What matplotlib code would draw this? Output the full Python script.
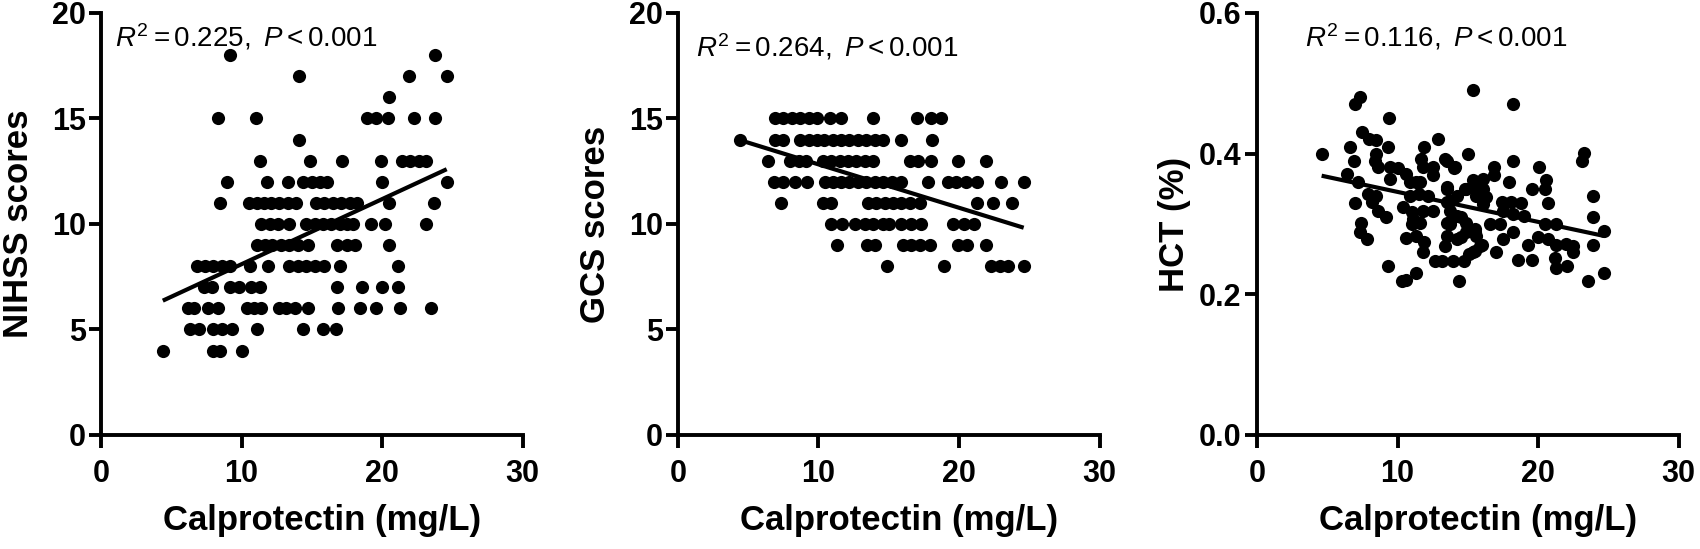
import numpy as np
import matplotlib
matplotlib.use("Agg")
import matplotlib.pyplot as plt

plt.rcParams['font.family'] = ['Liberation Sans', 'DejaVu Sans']
plt.rcParams['mathtext.fontset'] = 'custom'
plt.rcParams['mathtext.rm'] = 'Liberation Sans'
plt.rcParams['mathtext.it'] = 'Liberation Sans:italic'
plt.rcParams['mathtext.bf'] = 'Liberation Sans:bold'

# ---- panel A: NIHSS scores vs calprotectin (one line per score level)
nihss_x = [9.2, 23.8,
           14.1, 21.9, 24.6,
           20.5,
           8.3, 11.0, 18.9, 19.6, 20.4, 22.3, 23.8,
           14.1,
           11.3, 14.85, 17.15, 19.9, 21.4, 22.0, 22.6, 23.1,
           9.0, 11.8, 13.3, 14.4, 15.0, 15.6, 16.1, 20.0, 24.6,
           8.5, 10.5, 11.1, 11.6, 12.1, 12.7, 13.3, 13.9, 15.3, 15.9, 16.5, 17.1, 17.7, 18.2, 20.5, 23.7,
           11.4, 12.0, 12.6, 13.4, 14.6, 15.2, 15.8, 16.4, 17.0, 17.5, 17.9, 19.2, 20.2, 23.1,
           11.1, 11.7, 12.2, 12.8, 13.4, 14.0, 14.7, 16.8, 17.5, 18.05, 20.5,
           6.8, 7.4, 8.0, 8.6, 9.2, 10.6, 11.9, 13.4, 14.0, 14.6, 15.2, 15.9, 17.0, 21.1,
           7.3, 7.9, 9.2, 9.8, 10.7, 11.3, 16.8, 18.6, 20.0, 21.1,
           6.2, 6.6, 7.6, 8.3, 10.4, 10.9, 11.4, 12.7, 13.2, 13.8, 14.7, 16.9, 18.4, 19.6, 21.25, 23.5,
           6.3, 7.0, 8.0, 8.6, 9.3, 11.1, 14.4, 15.8, 16.75,
           4.4, 8.0, 8.5, 10.0]
nihss_y = [18] * 2 + [17] * 3 + [16] * 1 + [15] * 7 + [14] * 1 + [13] * 8 + \
          [12] * 9 + [11] * 16 + [10] * 14 + [9] * 11 + [8] * 14 + [7] * 10 + \
          [6] * 16 + [5] * 9 + [4] * 4

# ---- panel B: GCS scores vs calprotectin
gcs_x = [6.9, 7.5, 8.1, 8.7, 9.3, 9.9, 10.8, 11.6, 13.9, 17.0, 18.0, 18.7,
         4.45, 6.9, 7.5, 8.7, 9.3, 9.9, 10.4, 11.0, 11.6, 12.2, 12.8, 13.4, 14.0, 14.6, 15.9, 18.05,
         6.4, 8.0, 8.6, 9.1, 10.3, 10.9, 11.5, 12.1, 12.7, 13.3, 13.9, 16.5, 17.1, 18.0, 19.95, 21.9,
         6.8, 7.5, 8.3, 9.2, 10.45, 11.0, 11.6, 12.2, 12.8, 13.4, 14.0, 14.6, 15.2, 15.9, 17.8,
         19.2, 19.8, 20.5, 21.25, 23.0, 24.6,
         7.3, 10.3, 10.9, 13.5, 14.1, 14.7, 15.3, 15.9, 16.5, 17.2, 21.3, 22.4, 23.8,
         10.9, 11.7, 12.6, 13.3, 13.9, 14.6, 15.0, 15.9, 16.6, 17.3, 19.6, 20.35, 21.1,
         11.3, 13.45, 14.05, 16.0, 16.6, 17.2, 17.9, 19.95, 20.6, 21.9,
         14.9, 18.9, 22.3, 22.9, 23.5, 24.6]
gcs_y = [15] * 12 + [14] * 16 + [13] * 16 + [12] * 21 + [11] * 13 + [10] * 13 + \
        [9] * 10 + [8] * 6

# ---- panel C: HCT vs calprotectin
hct_x = [4.6, 7.3, 7.0, 9.4, 15.4, 6.6, 7.5, 8.0, 8.5, 9.3, 6.9, 8.5, 8.4, 8.6, 6.4,
         7.2, 9.45, 10.0, 9.45, 10.6, 11.9, 12.9, 11.7, 11.8, 12.5, 13.4, 14.1, 15.0,
         10.9, 11.6, 12.5, 7.9, 8.5, 8.15, 8.6, 9.2, 6.95, 7.4, 7.3, 7.8, 10.9, 11.5,
         12.2, 13.5, 10.4, 11.0, 11.8, 12.5, 13.5, 14.2, 14.9, 15.5, 11.0, 11.6, 13.5,
         14.2, 14.9, 10.6, 11.35, 11.9, 13.5, 14.2, 14.9, 11.8, 12.65, 13.2, 13.95, 14.7,
         15.4, 9.3, 10.3, 10.6, 11.35, 14.4, 15.6,
         18.2, 18.2, 16.9, 20.1, 23.3, 23.1, 15.4, 16.1, 16.1, 16.9, 17.9, 15.5, 16.3,
         16.1, 20.6, 19.6, 20.5, 23.9, 17.4, 18.1, 18.8, 20.7, 17.5, 18.2, 19.0, 23.9,
         16.6, 17.3, 20.5, 21.3, 24.7, 15.5, 18.2, 17.5, 20.0, 20.7, 16.0, 15.5, 17.0,
         19.3, 21.25, 22.0, 22.5, 22.5, 23.9, 18.6, 19.6, 21.2, 21.3, 22.05, 23.55, 24.7,
         13.7, 13.7, 14.5, 13.7, 15.5, 14.5, 13.4, 15.85, 15.1, 14.8, 13.5, 15.6, 11.35,
         13.5, 14.0, 11.1]
hct_y = [0.400, 0.481, 0.471, 0.450, 0.490, 0.410, 0.431, 0.421, 0.420, 0.410, 0.390,
         0.400, 0.390, 0.381, 0.371, 0.360, 0.381, 0.379, 0.364, 0.371, 0.410, 0.421,
         0.393, 0.381, 0.381, 0.393, 0.381, 0.400, 0.360, 0.360, 0.369, 0.343, 0.340,
         0.331, 0.319, 0.310, 0.330, 0.301, 0.289, 0.279, 0.340, 0.343, 0.340, 0.352,
         0.324, 0.317, 0.319, 0.319, 0.331, 0.340, 0.350, 0.360, 0.300, 0.302, 0.302,
         0.312, 0.302, 0.280, 0.283, 0.274, 0.283, 0.279, 0.288, 0.260, 0.248, 0.248,
         0.248, 0.248, 0.260, 0.240, 0.219, 0.221, 0.230, 0.219, 0.283,
         0.470, 0.390, 0.381, 0.381, 0.401, 0.390, 0.362, 0.364, 0.350, 0.369, 0.360,
         0.350, 0.338, 0.329, 0.362, 0.350, 0.350, 0.340, 0.331, 0.331, 0.330, 0.330,
         0.319, 0.314, 0.311, 0.310, 0.300, 0.300, 0.300, 0.300, 0.290, 0.288, 0.289,
         0.279, 0.281, 0.279, 0.270, 0.262, 0.260, 0.270, 0.270, 0.271, 0.269, 0.260,
         0.270, 0.249, 0.249, 0.251, 0.238, 0.240, 0.219, 0.230,
         0.333, 0.319, 0.310, 0.300, 0.293, 0.281, 0.269, 0.269, 0.257, 0.350, 0.350,
         0.340, 0.360, 0.390, 0.379, 0.307]

panels = [
    dict(x=nihss_x, y=nihss_y, ylim=(0, 20), yticks=[0, 5, 10, 15, 20], fmt='%d',
         ylabel='NIHSS scores', note=r'$R^2 = 0.225,\ P < 0.001$', note_xy=(1.0, 19.6)),
    dict(x=gcs_x, y=gcs_y, ylim=(0, 20), yticks=[0, 5, 10, 15, 20], fmt='%d',
         ylabel='GCS scores', note=r'$R^2 = 0.264,\ P < 0.001$', note_xy=(1.3, 19.1)),
    dict(x=hct_x, y=hct_y, ylim=(0, 0.6), yticks=[0.0, 0.2, 0.4, 0.6], fmt='%.1f',
         ylabel='HCT (%)', note=r'$R^2 = 0.116,\ P < \mathit{0.001}$', note_xy=(3.4, 0.588)),
]
xticks = [0, 10, 20, 30]
lefts = [0.0594, 0.3988, 0.7394]

fig = plt.figure(figsize=(17, 5.49), dpi=100)

for left, p in zip(lefts, panels):
    ax = fig.add_axes([left, 0.2077, 0.248, 0.7687])
    x = np.array(p['x'])
    y = np.array(p['y'])
    ax.scatter(x, y, s=90, color='black', linewidths=0, zorder=3, clip_on=False)

    # least squares line over the data range
    slope, intercept = np.polyfit(x, y, 1)
    xs = np.array([x.min(), x.max()])
    ax.plot(xs, intercept + slope * xs, color='black', lw=3, zorder=4,
            solid_capstyle='butt')

    ax.set_xlim(0, 30)
    ax.set_ylim(*p['ylim'])
    ax.set_xticks(xticks, labels=[str(v) for v in xticks], fontweight='bold')
    ax.set_yticks(p['yticks'], labels=[p['fmt'] % v for v in p['yticks']],
                  fontweight='bold')
    for side in ('top', 'right'):
        ax.spines[side].set_visible(False)
    for side in ('left', 'bottom'):
        ax.spines[side].set_linewidth(2.8)
    ax.tick_params(width=2.8, length=9, labelsize=22)
    ax.tick_params(axis='x', pad=8)
    ax.tick_params(axis='y', pad=2)

    ax.set_xlabel('Calprotectin (mg/L)', fontsize=25, fontweight='bold')
    ax.xaxis.set_label_coords(0.525, -0.163)
    ax.set_ylabel(p['ylabel'], fontsize=25, fontweight='bold')
    ax.yaxis.set_label_coords(-0.156, 0.5)

    ax.text(p['note_xy'][0], p['note_xy'][1], p['note'], fontsize=20,
            ha='left', va='top')

fig.savefig('out.png', dpi=100)
